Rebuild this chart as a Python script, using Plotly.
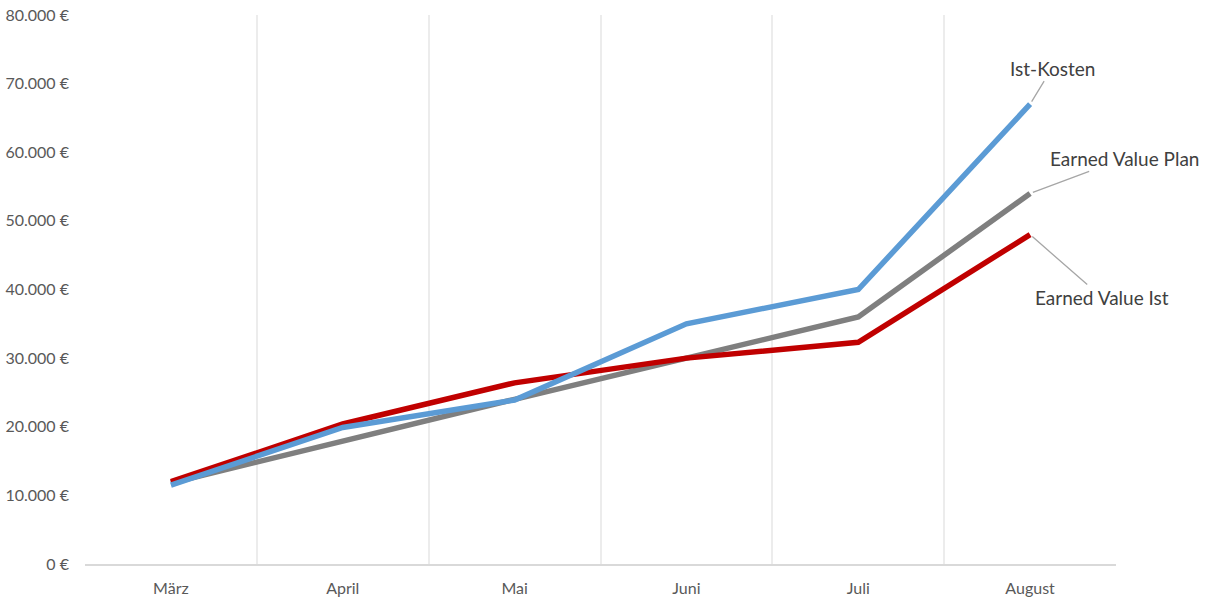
import plotly.graph_objects as go

# --- data ---
months = ["März", "April", "Mai", "Juni", "Juli", "August"]
ev_plan = [11800, 18000, 24000, 30000, 36000, 54000]
ev_ist = [12000, 20400, 26400, 30000, 32300, 48000]
ist_kosten = [11500, 19900, 23900, 35000, 40000, 67000]

series_names = ["Earned Value Plan", "Earned Value Ist", "Ist-Kosten"]
series_values = [ev_plan, ev_ist, ist_kosten]
series_colors = ["#7f7f7f", "#c00000", "#5b9bd5"]

y_ticks = [0, 10000, 20000, 30000, 40000, 50000, 60000, 70000, 80000]
y_labels = [f"{v:,}".replace(",", ".") + " €" for v in y_ticks]

fig = go.Figure()
for name, vals, color in zip(series_names, series_values, series_colors):
    fig.add_trace(go.Scatter(
        x=months, y=vals, name=name, mode="lines",
        line=dict(color=color, width=5.5),
        hoverinfo="skip",
    ))

# leader-line labels at the last point of each series (pixel offsets)
label_offsets = {
    "Ist-Kosten": (22, -36),
    "Earned Value Plan": (94, -35),
    "Earned Value Ist": (72, 63),
}
for name, vals in zip(series_names, series_values):
    ax, ay = label_offsets[name]
    fig.add_annotation(
        x=months[-1], y=vals[-1], text=name,
        showarrow=True, arrowhead=0, arrowwidth=1.3, arrowcolor="#a6a6a6",
        ax=ax, ay=ay, standoff=3,
        font=dict(size=19, color="#404040"),
    )

fig.update_layout(
    width=1215, height=614,
    margin=dict(l=85, r=99, t=15, b=50),
    paper_bgcolor="white", plot_bgcolor="white",
    showlegend=False,
    font=dict(family="Lato, Open Sans, sans-serif", size=16, color="#595959"),
)
fig.update_xaxes(
    type="category", range=[-0.5, 5.5], automargin=False,
    tickson="boundaries", ticks="", ticklen=0, ticklabelstandoff=9,
    showgrid=True, gridcolor="#ececec", gridwidth=1.5,
    showline=True, linecolor="#d9d9d9", linewidth=2,
    tickfont=dict(size=16, color="#595959"),
)
fig.update_yaxes(
    range=[0, 80000], automargin=False,
    tickvals=y_ticks, ticktext=y_labels, ticklabelstandoff=15,
    showgrid=False, zeroline=False, showline=False,
    ticks="", tickfont=dict(size=16, color="#595959"),
)

# drop the default page margin so the figure sits at the window's corner
fig.write_html(
    "out.html",
    config={"displayModeBar": False},
    post_script="document.body.style.margin='0';",
)
